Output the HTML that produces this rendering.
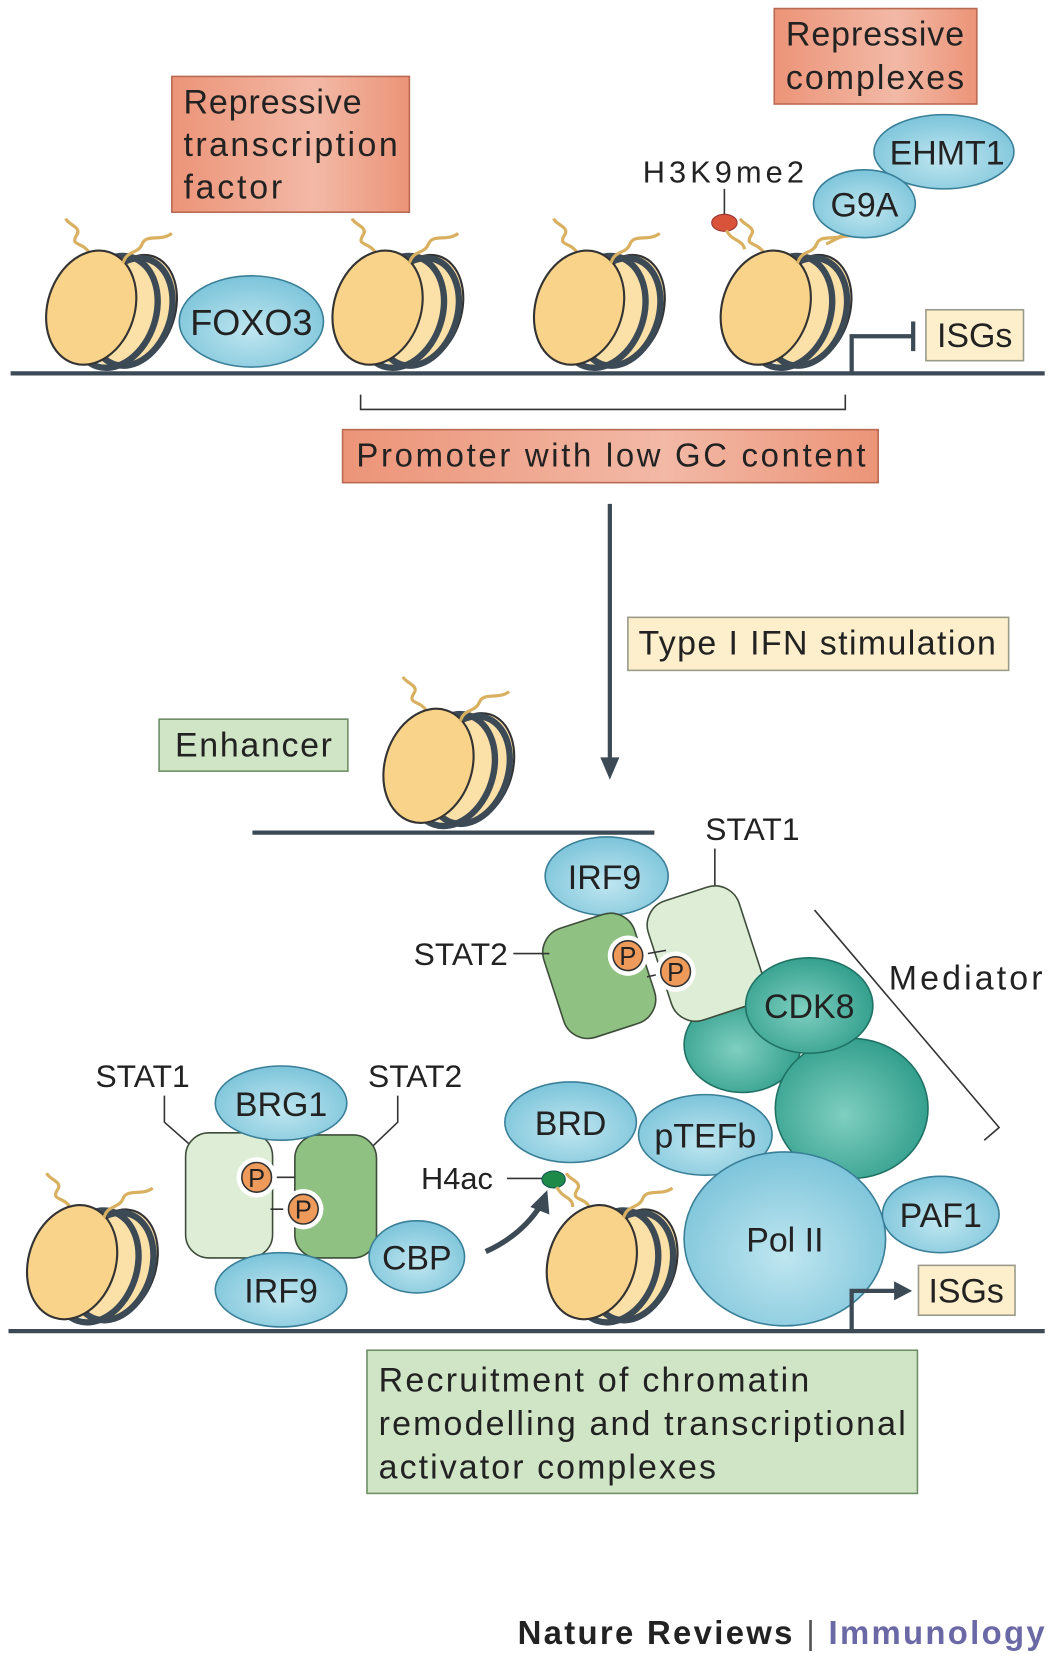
<!DOCTYPE html>
<html><head><meta charset="utf-8"><style>
html,body{margin:0;padding:0;background:#fff;}
svg{display:block;}
text{font-family:"Liberation Sans",sans-serif;fill:#222;}
</style></head><body>
<svg width="1050" height="1660" viewBox="0 0 990 1565" xmlns="http://www.w3.org/2000/svg">
<defs>
<radialGradient id="bl" cx="50%" cy="60%" r="60%"><stop offset="0" stop-color="#bfe6f0"/><stop offset="1" stop-color="#7cc4da"/></radialGradient>
<radialGradient id="tl" cx="45%" cy="55%" r="60%"><stop offset="0" stop-color="#7fcfc0"/><stop offset="1" stop-color="#2f9c8a"/></radialGradient>
<linearGradient id="rd" x1="0" y1="0" x2="1" y2="0"><stop offset="0" stop-color="#ec9478"/><stop offset="0.6" stop-color="#f2b9a6"/><stop offset="1" stop-color="#ec9478"/></linearGradient>
<g id="nuc">
 <path d="M-2,-52 C-8,-62 -20,-58 -14,-68 C-8,-76 -22,-78 -24,-84" fill="none" stroke="#d9b060" stroke-width="3"/>
 <ellipse cx="42" cy="2" rx="37" ry="53" transform="rotate(18 42 2)" fill="#fbe0a8" stroke="#333" stroke-width="2"/>
 <ellipse cx="28" cy="2" rx="38" ry="54" transform="rotate(18 28 2)" fill="#fbe0a8" stroke="none"/>
 <ellipse cx="38" cy="4" rx="37" ry="52" transform="rotate(18 38 4)" fill="none" stroke="#3c4a56" stroke-width="6"/>
 <ellipse cx="22" cy="4" rx="39" ry="54" transform="rotate(18 22 4)" fill="none" stroke="#3c4a56" stroke-width="6"/>
 <ellipse cx="0" cy="0" rx="41" ry="55" transform="rotate(18)" fill="#f9d38a" stroke="#333" stroke-width="2"/>
 <path d="M30,-42 C34,-55 44,-50 48,-60 C52,-70 66,-62 76,-70" fill="none" stroke="#d9b060" stroke-width="3"/>
</g>
</defs>

<!-- TOP SECTION -->
<line x1="10" y1="352" x2="985" y2="352" stroke="#3c4a56" stroke-width="4"/>
<use href="#nuc" x="86" y="290"/>
<use href="#nuc" x="356" y="290"/>
<use href="#nuc" x="546" y="290"/>
<use href="#nuc" x="722" y="290"/>

<rect x="162" y="72" width="224" height="128" fill="url(#rd)" stroke="#b96a52" stroke-width="1.5"/>
<text x="173" y="107" font-size="32" textLength="168">Repressive</text>
<text x="173" y="147" font-size="32" textLength="202">transcription</text>
<text x="173" y="187" font-size="32" textLength="93">factor</text>

<rect x="730" y="8" width="191" height="90" fill="url(#rd)" stroke="#b96a52" stroke-width="1.5"/>
<text x="741" y="43" font-size="32" textLength="168">Repressive</text>
<text x="741" y="84" font-size="32" textLength="168">complexes</text>

<ellipse cx="237" cy="303" rx="68" ry="43" fill="url(#bl)" stroke="#3a7f98" stroke-width="1.5"/>
<text x="237" y="316" font-size="34" text-anchor="middle">FOXO3</text>

<text x="606" y="172" font-size="29" textLength="152">H3K9me2</text>
<line x1="683" y1="178" x2="683" y2="205" stroke="#333" stroke-width="1.5"/>
<ellipse cx="683" cy="210" rx="12" ry="8" fill="#d9533a" stroke="#933" stroke-width="1"/>
<path d="M685,217 C690,228 700,225 702,235" fill="none" stroke="#d9b060" stroke-width="3"/>
<path d="M779,230 C790,225 790,222 808,222" fill="none" stroke="#d9b060" stroke-width="3"/>

<ellipse cx="890" cy="143" rx="66" ry="35" fill="url(#bl)" stroke="#3a7f98" stroke-width="1.5"/>
<text x="893" y="155" font-size="32" text-anchor="middle">EHMT1</text>
<ellipse cx="815" cy="192" rx="48" ry="32" fill="url(#bl)" stroke="#3a7f98" stroke-width="1.5"/>
<text x="815" y="204" font-size="32" text-anchor="middle">G9A</text>

<path d="M803,352 V317 H860" fill="none" stroke="#3c4a56" stroke-width="4"/>
<line x1="861" y1="303" x2="861" y2="331" stroke="#3c4a56" stroke-width="4"/>
<rect x="873" y="292" width="92" height="48" fill="#fdefcc" stroke="#9a9a8a" stroke-width="1.5"/>
<text x="919" y="327" font-size="32" text-anchor="middle">ISGs</text>

<path d="M340,372 V386 H797 V372" fill="none" stroke="#333" stroke-width="1.5"/>
<rect x="323" y="405" width="505" height="50" fill="url(#rd)" stroke="#b96a52" stroke-width="1.5"/>
<text x="336" y="440" font-size="31" textLength="480">Promoter with low GC content</text>

<line x1="575" y1="475" x2="575" y2="718" stroke="#3c4a56" stroke-width="4"/>
<path d="M566,714 L575,735 L584,714 Z" fill="#3c4a56"/>

<rect x="592" y="582" width="359" height="50" fill="#fdefcc" stroke="#9a9a8a" stroke-width="1.5"/>
<text x="602" y="617" font-size="32" textLength="337">Type I IFN stimulation</text>

<!-- ENHANCER -->
<rect x="150" y="678" width="178" height="49" fill="#cfe5c6" stroke="#6f8e66" stroke-width="1.5"/>
<text x="165" y="713" font-size="32" textLength="148">Enhancer</text>
<line x1="238" y1="785" x2="617" y2="785" stroke="#3c4a56" stroke-width="4"/>
<use href="#nuc" x="404" y="722"/>

<!-- Mediator bracket -->
<path d="M768,858 L942,1063 L928,1075" fill="none" stroke="#333" stroke-width="1.5"/>
<text x="838" y="933" font-size="32" textLength="145">Mediator</text>

<!-- upper STAT complex -->
<text x="665" y="792" font-size="30">STAT1</text>
<line x1="674" y1="800" x2="674" y2="838" stroke="#333" stroke-width="1.5"/>
<ellipse cx="572" cy="826" rx="58" ry="37" fill="url(#bl)" stroke="#3a7f98" stroke-width="1.5"/>
<text x="570" y="838" font-size="32" text-anchor="middle">IRF9</text>

<ellipse cx="700" cy="985" rx="55" ry="45" fill="url(#tl)" stroke="#1f7264" stroke-width="1.5"/>
<ellipse cx="803" cy="1045" rx="72" ry="66" fill="url(#tl)" stroke="#1f7264" stroke-width="1.5"/>

<rect x="620" y="840" width="90" height="118" rx="24" transform="rotate(-18 665 899)" fill="#ddedd6" stroke="#3d4d3a" stroke-width="1.5"/>
<rect x="520" y="866" width="90" height="108" rx="24" transform="rotate(-18 565 920)" fill="#8fc282" stroke="#3d4d3a" stroke-width="1.5"/>
<text x="390" y="910" font-size="30">STAT2</text>
<line x1="484" y1="899" x2="518" y2="899" stroke="#333" stroke-width="1.5"/>
<line x1="605" y1="900" x2="628" y2="896" stroke="#333" stroke-width="1.5"/>
<line x1="610" y1="921" x2="628" y2="917" stroke="#333" stroke-width="1.5"/>
<circle cx="592" cy="901" r="19" fill="#fff"/><circle cx="592" cy="901" r="14" fill="#ee9a5a" stroke="#333" stroke-width="1.5"/>
<text x="592" y="910" font-size="24" text-anchor="middle">P</text>
<circle cx="637" cy="916" r="19" fill="#fff"/><circle cx="637" cy="916" r="14" fill="#ee9a5a" stroke="#333" stroke-width="1.5"/>
<text x="637" y="925" font-size="24" text-anchor="middle">P</text>

<ellipse cx="763" cy="948" rx="60" ry="45" fill="url(#tl)" stroke="#1f7264" stroke-width="1.5"/>
<text x="763" y="960" font-size="32" text-anchor="middle">CDK8</text>

<!-- BOTTOM -->
<line x1="8" y1="1255" x2="985" y2="1255" stroke="#3c4a56" stroke-width="4"/>
<use href="#nuc" x="68" y="1190"/>
<use href="#nuc" x="558" y="1190"/>

<ellipse cx="538" cy="1058" rx="62" ry="38" fill="url(#bl)" stroke="#3a7f98" stroke-width="1.5"/>
<text x="538" y="1070" font-size="32" text-anchor="middle">BRD</text>
<ellipse cx="665" cy="1070" rx="63" ry="38" fill="url(#bl)" stroke="#3a7f98" stroke-width="1.5"/>
<text x="665" y="1082" font-size="32" text-anchor="middle">pTEFb</text>

<ellipse cx="740" cy="1168" rx="95" ry="82" fill="url(#bl)" stroke="#3a7f98" stroke-width="1.5"/>
<text x="740" y="1180" font-size="32" text-anchor="middle">Pol II</text>
<ellipse cx="887" cy="1145" rx="55" ry="36" fill="url(#bl)" stroke="#3a7f98" stroke-width="1.5"/>
<text x="887" y="1157" font-size="32" text-anchor="middle">PAF1</text>

<path d="M803,1255 V1217 H845" fill="none" stroke="#3c4a56" stroke-width="4"/>
<path d="M843,1208 L860,1217 L843,1226 Z" fill="#3c4a56"/>
<rect x="866" y="1193" width="91" height="47" fill="#fdefcc" stroke="#9a9a8a" stroke-width="1.5"/>
<text x="911" y="1228" font-size="32" text-anchor="middle">ISGs</text>

<text x="397" y="1121" font-size="29">H4ac</text>
<line x1="478" y1="1111" x2="512" y2="1111" stroke="#333" stroke-width="1.5"/>
<ellipse cx="522" cy="1112" rx="11" ry="8" fill="#1e8a4a" stroke="#155" stroke-width="1"/>
<path d="M525,1119 C530,1130 540,1128 540,1138" fill="none" stroke="#d9b060" stroke-width="3"/>
<path d="M458,1180 C480,1170 498,1155 510,1136" fill="none" stroke="#3c4a56" stroke-width="5"/>
<path d="M500,1138 L516,1122 L518,1145 Z" fill="#3c4a56"/>

<!-- left complex -->
<text x="90" y="1025" font-size="30">STAT1</text>
<path d="M155,1033 V1058 L180,1080" fill="none" stroke="#333" stroke-width="1.5"/>
<text x="347" y="1025" font-size="30">STAT2</text>
<path d="M375,1033 V1058 L352,1080" fill="none" stroke="#333" stroke-width="1.5"/>
<rect x="175" y="1068" width="82" height="118" rx="22" fill="#ddedd6" stroke="#3d4d3a" stroke-width="1.5"/>
<rect x="278" y="1070" width="77" height="116" rx="22" fill="#8fc282" stroke="#3d4d3a" stroke-width="1.5"/>
<ellipse cx="265" cy="1040" rx="62" ry="35" fill="url(#bl)" stroke="#3a7f98" stroke-width="1.5"/>
<text x="265" y="1052" font-size="32" text-anchor="middle">BRG1</text>
<ellipse cx="265" cy="1216" rx="62" ry="35" fill="url(#bl)" stroke="#3a7f98" stroke-width="1.5"/>
<text x="265" y="1228" font-size="32" text-anchor="middle">IRF9</text>
<line x1="255" y1="1110" x2="278" y2="1110" stroke="#333" stroke-width="1.5"/>
<line x1="255" y1="1140" x2="275" y2="1140" stroke="#333" stroke-width="1.5"/>
<circle cx="242" cy="1110" r="19" fill="#fff"/><circle cx="242" cy="1110" r="14" fill="#ee9a5a" stroke="#333" stroke-width="1.5"/>
<text x="242" y="1119" font-size="24" text-anchor="middle">P</text>
<circle cx="286" cy="1140" r="19" fill="#fff"/><circle cx="286" cy="1140" r="14" fill="#ee9a5a" stroke="#333" stroke-width="1.5"/>
<text x="286" y="1149" font-size="24" text-anchor="middle">P</text>
<ellipse cx="393" cy="1185" rx="45" ry="34" fill="url(#bl)" stroke="#3a7f98" stroke-width="1.5"/>
<text x="393" y="1197" font-size="32" text-anchor="middle">CBP</text>

<rect x="346" y="1273" width="519" height="135" fill="#cfe5c6" stroke="#6f8e66" stroke-width="1.5"/>
<text x="357" y="1312" font-size="32" textLength="406">Recruitment of chromatin</text>
<text x="357" y="1353" font-size="32" textLength="497">remodelling and transcriptional</text>
<text x="357" y="1394" font-size="32" textLength="318">activator complexes</text>

<text x="488" y="1550" font-size="31" font-weight="bold" textLength="497"><tspan fill="#222">Nature Reviews</tspan><tspan fill="#555" font-weight="normal"> | </tspan><tspan fill="#6b68a6">Immunology</tspan></text>
</svg>
</body></html>
